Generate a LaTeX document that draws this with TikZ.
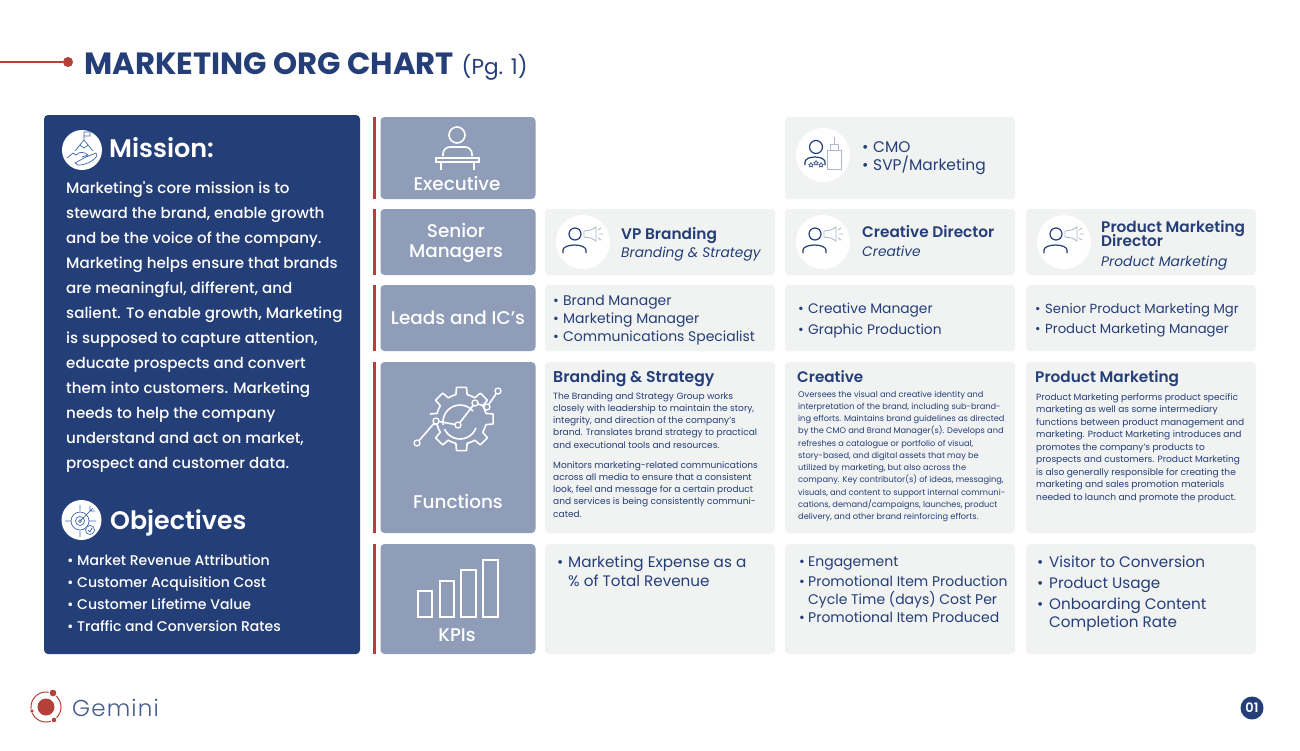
\documentclass[tikz,border=0pt]{standalone}
\usepackage{fontspec}
\setmainfont{Poppins}
\newfontfamily\popm{Poppins Medium}
\newfontfamily\pops{Poppins SemiBold}
\newfontfamily\popl{Poppins Light}
\definecolor{navy}{HTML}{243E78}
\definecolor{slate}{HTML}{8F9DB9}
\definecolor{cellbg}{HTML}{F1F3F3}
\definecolor{redbar}{HTML}{B5403A}
\definecolor{iconlight}{HTML}{AEB8D0}
\definecolor{iconblue}{HTML}{3F66B0}
\lineskiplimit=-100pt
\newcommand{\bul}[1]{\makebox[#1][l]{•}}
% name, x, baseline y, size, leading, colour, font switch, text
\newcommand{\txt}[8]{\node[anchor=north west,inner sep=0pt,align=left,text=#6,font={\fontsize{#4}{#5}\selectfont\lineskiplimit=-100pt #7}] (#1) at (#2,#3-#4) {\rule{0pt}{#4pt}#8};}
\tikzset{
  cell/.style={fill=cellbg,rounded corners=4pt,draw=none},
  lab/.style={fill=slate,rounded corners=4pt,draw=none},
  labtext/.style={text=white,align=center,inner sep=0pt,font={\fontsize{18.4}{20}\selectfont\popm}},
  whitedisc/.style={circle,fill=white,minimum size=54pt,inner sep=0pt},
  navyline/.style={draw=navy,line width=1.2pt},
  lightline/.style={draw=iconlight,line width=.9pt},
  whiteline/.style={draw=white,line width=1.6pt},
  blueline/.style={draw=iconblue,line width=.7pt,line join=round},
  pics/mega/.style={code={
    \draw[navyline] (-8,-8) circle (6);
    \draw[navyline] (-20,11) -- (-20,8) arc[start angle=180,end angle=360,x radius=11.5,y radius=5] -- (3,11);
    \draw[lightline] (1,-11) -- (1,-5) -- (8,-4) -- (13,-1) -- (13,-15) -- (8,-12) -- cycle;
    \draw[lightline] (15,-12)--(18,-14) (15,-4)--(18,-2) (16,-8)--(20,-8);
  }},
}
\begin{document}
\begin{tikzpicture}[x=1pt,y=-1pt]
\useasboundingbox (0,0) rectangle (1300,750);
\fill[white] (0,0) rectangle (1300,750);
% header
\coordinate (hl) at (0,62);
\node[circle,fill=redbar,minimum size=10pt,inner sep=0pt] (hd) at (68,62) {};
\draw[redbar,line width=1.2pt] (hl) -- (hd);
\txt{title}{84}{74}{30.7}{36}{navy}{\bfseries}{MARKETING ORG CHART}
\txt{pg}{461.5}{74}{21.6}{28}{navy}{}{(Pg. 1)}
% mission panel
\node[fill=navy,rounded corners=4pt,minimum width=316pt,minimum height=539pt,inner sep=0pt] (panel) at (202,384.5) {};
\node[whitedisc,minimum size=40pt] (mi) at (82,150) {};
\draw[blueline] (75,151) -- (84,140) -- (93,151) (80,145) -- (84,148) -- (88,145) (84,140) -- (84,132) -- (90,132) -- (90,136) -- (84,136);
\draw[blueline] (67,158) -- (73,153) -- (76,155) .. controls (80,151) and (84,152) .. (88,155) -- (82,157) (86,157) -- (96,153) -- (97,156) .. controls (92,162) and (86,165) .. (78,165) -- (75,163) -- cycle;
\txt{mt}{109}{157.5}{25.5}{30}{white}{\pops}{Mission:}
\txt{mb}{66}{193}{15.1}{25}{white}{\popm}{Marketing's core mission is to\\steward the brand, enable growth\\and be the voice of the company.\\Marketing helps ensure that brands\\are meaningful, different, and\\salient.  To enable growth, Marketing\\is supposed to capture attention,\\educate prospects and convert\\them into customers. Marketing\\needs to help the company\\understand and act on market,\\prospect and customer data.}
\node[whitedisc,minimum size=40pt] (oi) at (81.5,520) {};
\draw[blueline] (80,521) circle (1.5) (80,521) circle (4.5) (80,521) circle (9);
\draw[blueline] (80,505)--(80,511) (80,531)--(80,537) (65,521)--(71,521) (89,521)--(96,521) (80,521)--(93,508) (90,506)--(90,511)--(95,511);
\draw[blueline,fill=white] (90,530) circle (4.5);
\draw[blueline] (88,530) -- (90,532) -- (92,528);
\txt{ot}{110}{529.5}{25.3}{30}{white}{\pops}{Objectives}
\txt{ob}{67}{565}{14.05}{22.1}{white}{\popm}{\bul{10pt}Market Revenue Attribution\\\bul{10pt}Customer Acquisition Cost\\\bul{10pt}Customer Lifetime Value\\\bul{10pt}Traffic and Conversion Rates}
% red bars
\foreach \n/\a/\b in {r1/117/199,r2/209/275,r3/285/351,r4/362/533,r5/544/654}{
  \fill[redbar] (373,\a) rectangle (376,\b);
}
% row labels
\node[lab,minimum width=155pt,minimum height=82pt] (lexec) at (458,158) {};
\node[lab,minimum width=155pt,minimum height=66pt] (lsen) at (458,242) {};
\node[lab,minimum width=155pt,minimum height=66pt] (llead) at (458,318) {};
\node[lab,minimum width=155pt,minimum height=171pt] (lfun) at (458,447.5) {};
\node[lab,minimum width=155pt,minimum height=110pt] (lkpi) at (458,599) {};
\node[labtext] (texec) at (457,183) {Executive};
\node[labtext] (tsen) at (456,243) {Senior\\Managers};
\node[labtext] (tlead) at (458,318) {Leads and IC’s};
\node[labtext] (tfun) at (458,501) {Functions};
\node[labtext] (tkpi) at (457,635) {KPIs};
% executive icon
\draw[whiteline] (457,135) circle (8);
\draw[whiteline] (443,156) -- (443,154) arc[start angle=180,end angle=270,x radius=7,y radius=7] -- (465,147) arc[start angle=270,end angle=360,x radius=7,y radius=7] -- (472,156);
\draw[whiteline] (436,158) rectangle (479,162);
\draw[whiteline] (441,162) -- (441,170) (474,162) -- (474,170);
% gear icon
\begin{scope}[shift={(461.5,419)}]
\foreach \t in {0,45,90,135,225,270,315}{
  \draw[whiteline,line join=round] (\t-22.5:25) -- (\t-13:25) -- (\t-9:32) -- (\t+9:32) -- (\t+13:25) -- (\t+22.5:25);
}
\draw[whiteline,line join=round] (157.5:25) -- (167:25) -- (171:29) (202.5:25) -- (193:25) -- (189:32);
\end{scope}
\draw[whiteline] (460,422) ++(170:17) arc[start angle=170,end angle=320,radius=17];
\draw[whiteline] (460,422) ++(20:17) arc[start angle=20,end angle=155,radius=17];
\draw[whiteline] (417,443) -- (436,421) -- (458,425) -- (475,403) -- (487,407) -- (498,391);
\foreach \p/\q in {417/443,436/421,458/425,475/403,487/407,498/391}{
  \filldraw[draw=white,fill=slate,line width=1.3pt] (\p,\q) circle (3);
}
% kpi bars icon
\foreach \p/\q/\r in {418/591/432,440/581/454,461/570/476,483/560/498}{
  \draw[whiteline] (\p,\q) rectangle (\r,617);
}
% exec cell
\node[cell,minimum width=230pt,minimum height=82pt] (cexec) at (900,158) {};
\node[whitedisc] (dexec) at (823,155) {};
\draw[navyline] (816,147) circle (6.5);
\draw[navyline] (805,165) -- (805,162) arc[start angle=180,end angle=360,x radius=10,y radius=5] -- (825,165);
\foreach \sx/\sy in {811/165,816/163,821/165}{
  \draw[navy,line width=.5pt,line join=round,shift={(\sx,\sy)}] (-90:2.6) -- (-54:1.1) -- (-18:2.6) -- (18:1.1) -- (54:2.6) -- (90:1.1) -- (126:2.6) -- (162:1.1) -- (198:2.6) -- (234:1.1) -- cycle;
}
\draw[lightline] (827,169) -- (827,150) -- (841,150) -- (841,169) -- cycle (830,150) -- (830,144) -- (838,144) -- (838,150) (834,144) -- (834,137);
\txt{etx}{862}{152}{15.45}{18.5}{navy}{}{\bul{11pt}CMO\\\bul{11pt}SVP/Marketing}
% senior cells
\node[cell,minimum width=230pt,minimum height=66pt] (cs1) at (660,242) {};
\node[cell,minimum width=230pt,minimum height=66pt] (cs2) at (900,242) {};
\node[cell,minimum width=230pt,minimum height=66pt] (cs3) at (1141,242) {};
\node[whitedisc] (ds1) at (583,242) {}; \pic at (583,242) {mega};
\node[whitedisc] (ds2) at (823,242) {}; \pic at (823,242) {mega};
\node[whitedisc] (ds3) at (1064,242) {}; \pic at (1064,242) {mega};
\txt{s1a}{621}{239}{15.35}{18}{navy}{\pops}{VP Branding}
\txt{s1b}{621}{257}{13.8}{18}{navy}{\itshape}{Branding \& Strategy}
\txt{s2a}{862}{237.5}{15.3}{18}{navy}{\pops}{Creative Director}
\txt{s2b}{862}{256}{13.8}{18}{navy}{\itshape}{Creative}
\txt{s3a}{1101}{232}{15.3}{14.5}{navy}{\pops}{Product Marketing\\Director}
\txt{s3b}{1101}{266}{13.8}{18}{navy}{\itshape}{Product Marketing}
% leads cells
\node[cell,minimum width=230pt,minimum height=66pt] (cl1) at (660,318) {};
\node[cell,minimum width=230pt,minimum height=66pt] (cl2) at (900,318) {};
\node[cell,minimum width=230pt,minimum height=66pt] (cl3) at (1141,318) {};
\txt{l1}{553}{305}{13.95}{18}{navy}{}{\bul{10pt}Brand Manager\\\bul{10pt}Marketing Manager\\\bul{10pt}Communications Specialist}
\txt{l2}{798}{313}{13.8}{21}{navy}{}{\bul{10pt}Creative Manager\\\bul{10pt}Graphic Production}
\txt{l3}{1035}{313}{13.2}{20.5}{navy}{}{\bul{10pt}Senior Product Marketing Mgr\\\bul{10pt}Product Marketing Manager}
% function cells
\node[cell,minimum width=230pt,minimum height=171pt] (cf1) at (660,447.5) {};
\node[cell,minimum width=230pt,minimum height=171pt] (cf2) at (900,447.5) {};
\node[cell,minimum width=230pt,minimum height=171pt] (cf3) at (1141,447.5) {};
\txt{f1h}{553}{382}{15.65}{18}{navy}{\pops}{Branding \& Strategy}
\txt{f1a}{553}{399}{9.05}{12.2}{navy}{}{The Branding and Strategy Group works\\closely with leadership to maintain the story,\\integrity, and direction of the company’s\\brand.  Translates brand strategy to practical\\and executional tools and resources.}
\txt{f1b}{553}{468}{9.05}{12.2}{navy}{}{Monitors marketing-related communications\\across all media to ensure that a consistent\\look, feel and message for a certain product\\and services is being consistently communi-\\cated.}
\txt{f2h}{797}{382}{15.2}{18}{navy}{\pops}{Creative}
\txt{f2a}{798}{397}{8.23}{12.25}{navy}{}{Oversees the visual and creative identity and\\interpretation of the brand, including sub-brand-\\ing efforts. Maintains brand guidelines as directed\\by the CMO and Brand Manager(s). Develops and\\refreshes a catalogue or portfolio of visual,\\story-based, and digital assets that may be\\utilized by marketing, but also across the\\company. Key contributor(s) of ideas, messaging,\\visuals, and content to support internal communi-\\cations, demand/campaigns, launches, product\\delivery, and other brand reinforcing efforts.}
\txt{f3h}{1035}{382}{15.3}{18}{navy}{\pops}{Product Marketing}
\txt{f3a}{1036}{400}{9.05}{12.5}{navy}{}{Product Marketing performs product specific\\marketing as well as some intermediary\\functions between product management and\\marketing. Product Marketing introduces and\\promotes the company’s products to\\prospects and customers. Product Marketing\\is also generally responsible for creating the\\marketing and sales promotion materials\\needed to launch and promote the product.}
% kpi cells
\node[cell,minimum width=230pt,minimum height=110pt] (ck1) at (660,599) {};
\node[cell,minimum width=230pt,minimum height=110pt] (ck2) at (900,599) {};
\node[cell,minimum width=230pt,minimum height=110pt] (ck3) at (1141,599) {};
\txt{k1}{557}{567}{15.2}{19}{navy}{}{\bul{11pt}Marketing Expense as a\\\hspace*{11pt}\% of Total Revenue}
\txt{k2}{799}{566}{13.97}{18}{navy}{}{\bul{9pt}Engagement\\[2pt]\bul{9pt}Promotional Item Production\\\hspace*{9pt}Cycle Time (days) Cost Per\\\bul{9pt}Promotional Item Produced}
\txt{k3}{1037}{567}{15.2}{17.5}{navy}{}{\bul{12pt}Visitor to Conversion\\[4pt]\bul{12pt}Product Usage\\[3.5pt]\bul{12pt}Onboarding Content\\\hspace*{12pt}Completion Rate}
% footer
\draw[redbar,line width=1pt] (46,707) circle (15);
\node[circle,fill=redbar,minimum size=17pt,inner sep=0pt] (lg0) at (46,707) {};
\node[circle,fill=redbar,draw=white,line width=1pt,minimum size=8pt,inner sep=0pt] (lg1) at (53,693) {};
\node[circle,fill=redbar,draw=white,line width=1pt,minimum size=6pt,inner sep=0pt] (lg2) at (54,720) {};
\node[circle,fill=redbar,draw=white,line width=.6pt,minimum size=4pt,inner sep=0pt] (lg3) at (32,711) {};
\node[anchor=base west,inner sep=0pt,text=navy!85!white,font={\fontsize{23}{28}\selectfont\popl\addfontfeatures{LetterSpace=5}}] (gem) at (72,716) {Gemini};
\node[circle,fill=navy,minimum size=23pt,inner sep=0pt,text=white,font={\fontsize{13}{13}\selectfont\pops}] (pn) at (1252,708) {01};
\end{tikzpicture}
\end{document}
